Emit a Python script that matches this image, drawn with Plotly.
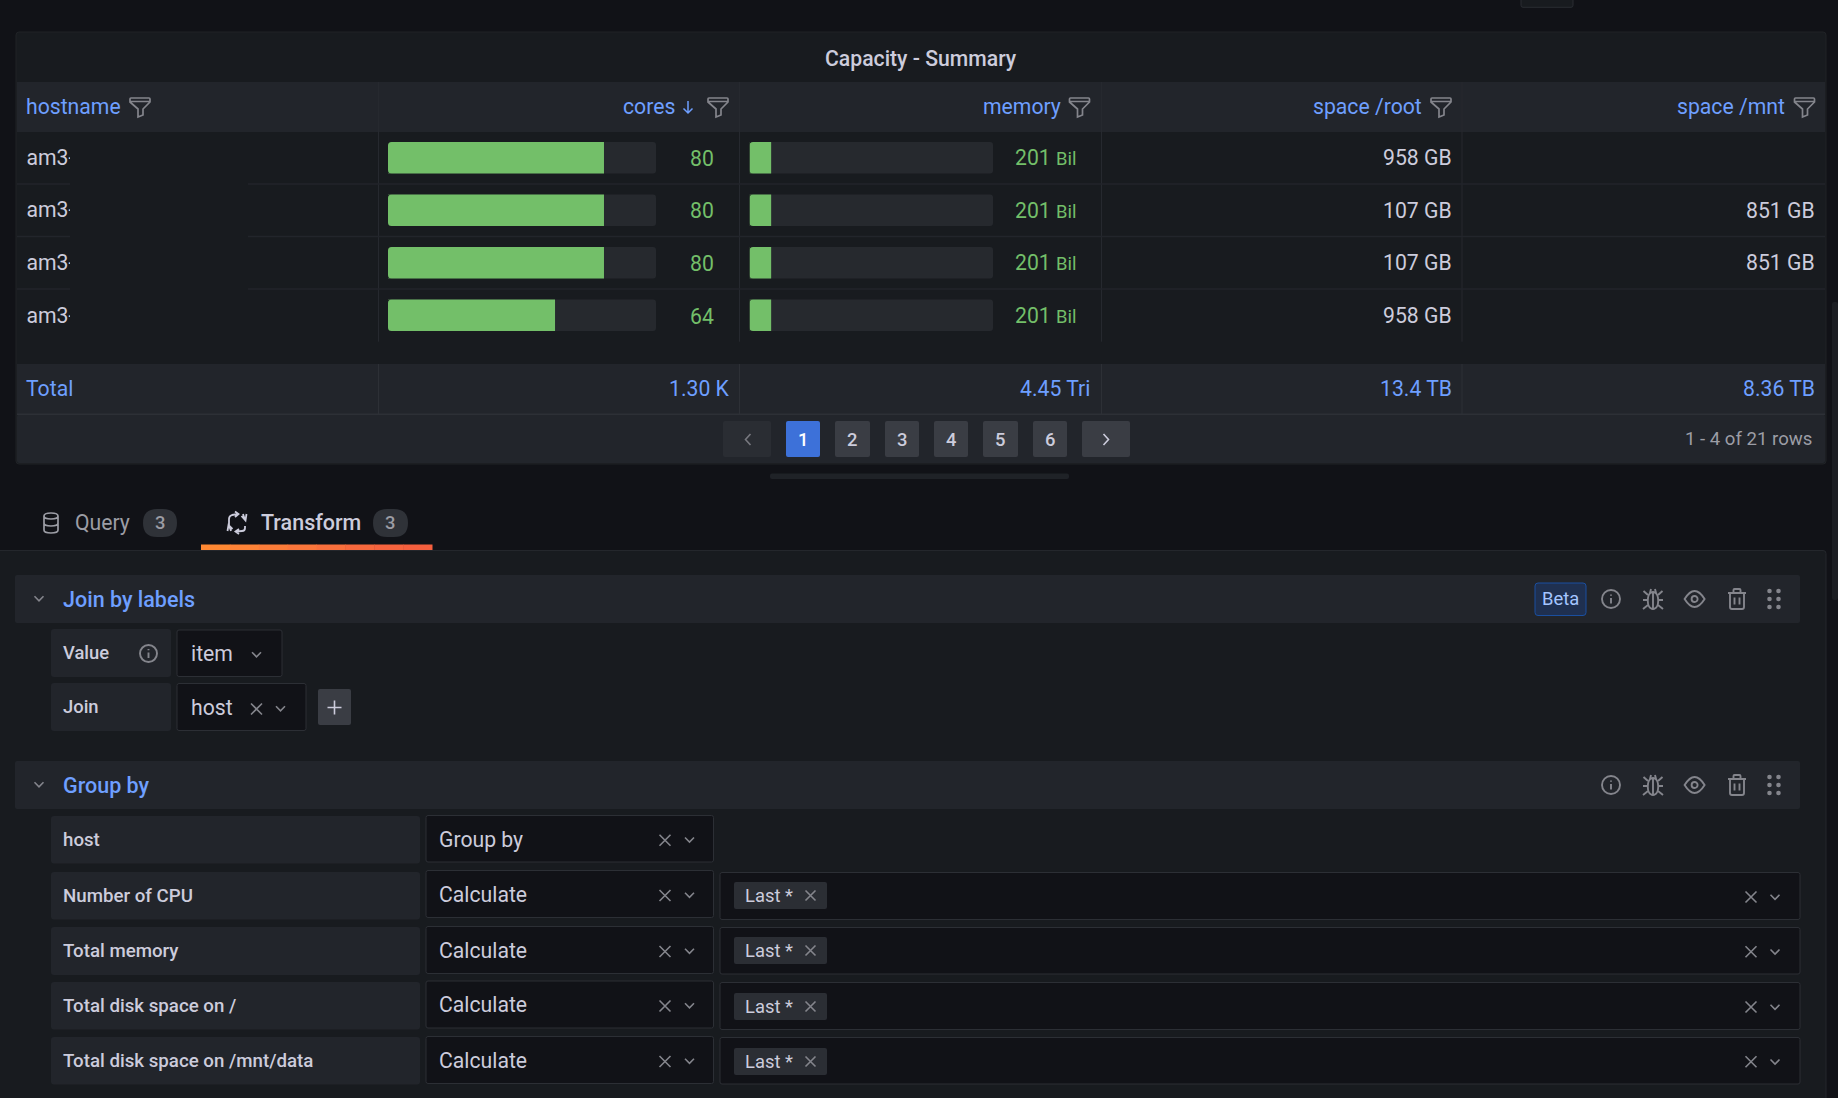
import plotly.graph_objects as go

# ---------- data ----------
hostnames = ["am3-", "am3-", "am3-", "am3-"]
row_index = [1, 2, 3, 4]
cores = [80, 80, 80, 64]
cores_scale = [97, 97, 97, 97]
memory = [201e9, 201e9, 201e9, 201e9]
memory_scale = [2.26e12, 2.26e12, 2.26e12, 2.26e12]
cores_labels = ["80", "80", "80", "64"]
memory_labels = ["201", "201", "201", "201"]
memory_unit = "Bil"
space_root = ["958 GB", "107 GB", "107 GB", "958 GB"]
space_mnt = ["", "851 GB", "851 GB", ""]
totals = ["1.30 K", "4.45 Tri", "13.4 TB", "8.36 TB"]
pages = ["1", "2", "3", "4", "5", "6"]
group_fields = ["host", "Number of CPU", "Total memory", "Total disk space on /", "Total disk space on /mnt/data"]
group_modes = ["Group by", "Calculate", "Calculate", "Calculate", "Calculate"]

# ---------- palette ----------
PAGE = "#111217"; PANEL = "#181b1f"; HEAD = "#22252b"; BORDER = "#2a2d33"
TXT = "#ccccdc"; DIM = "#9c9da5"; BLUE = "#6e9fff"; GREEN = "#73bf69"; ICON = "#84858c"
FONT = "Roboto"
BASE = 21.2; SMALL = 18.4; MEDIUM = 21.5

shapes, annos = [], []

def rect(x0, y0, x1, y1, fill, line=None, r=0, lw=1, layer="below"):
    if r:
        d = (f"M{x0+r},{y0} L{x1-r},{y0} Q{x1},{y0} {x1},{y0+r} L{x1},{y1-r} Q{x1},{y1} {x1-r},{y1} "
             f"L{x0+r},{y1} Q{x0},{y1} {x0},{y1-r} L{x0},{y0+r} Q{x0},{y0} {x0+r},{y0} Z")
        shapes.append(dict(type="path", path=d, xref="x", yref="y", fillcolor=fill, layer=layer,
                           line=dict(color=line or fill, width=lw if line else 0)))
    else:
        shapes.append(dict(type="rect", x0=x0, y0=y0, x1=x1, y1=y1, xref="x", yref="y", fillcolor=fill, layer=layer,
                           line=dict(color=line or fill, width=lw if line else 0)))

def stroke(d, color=ICON, w=1.9, fill="rgba(0,0,0,0)"):
    shapes.append(dict(type="path", path=d, xref="x", yref="y", fillcolor=fill, layer="below",
                       line=dict(color=color, width=w)))

def circle(cx, cy, r, color=ICON, w=1.9, fill="rgba(0,0,0,0)"):
    shapes.append(dict(type="circle", x0=cx-r, y0=cy-r, x1=cx+r, y1=cy+r, xref="x", yref="y",
                       fillcolor=fill, layer="below", line=dict(color=color, width=w)))

def text(x, y, s, anchor="left", size=BASE, color=TXT, weight=400):
    annos.append(dict(x=x, y=y, xref="x", yref="y", text=s, showarrow=False, xanchor=anchor, yanchor="middle",
                      borderpad=0, borderwidth=0, font=dict(family=FONT, size=size, color=color, weight=weight)))

def chevron(cx, cy, s=4.5, color=ICON):
    stroke(f"M{cx-s},{cy-s*0.5} L{cx},{cy+s*0.5} L{cx+s},{cy-s*0.5}", color, 1.6)

def cross(cx, cy, s=5.5, color=ICON):
    stroke(f"M{cx-s},{cy-s} L{cx+s},{cy+s} M{cx+s},{cy-s} L{cx-s},{cy+s}", color, 1.6)

def funnel(x0, y0):
    stroke(f"M{x0+1},{y0} L{x0+19},{y0} Q{x0+20},{y0} {x0+20},{y0+1} L{x0+20},{y0+4} L{x0+13},{y0+11} L{x0+13},{y0+17} "
           f"L{x0+8},{y0+19} L{x0+8},{y0+11} L{x0},{y0+4} L{x0},{y0+1} Q{x0},{y0} {x0+1},{y0} Z "
           f"M{x0},{y0+3.5} L{x0+20},{y0+3.5}", ICON, 1.7)

def info(cx, cy, r=9):
    circle(cx, cy, r)
    stroke(f"M{cx},{cy-1} L{cx},{cy+4.5} M{cx},{cy-4.5} L{cx},{cy-3.2}")

def bug(cx, cy):
    stroke(f"M{cx},{cy-7} C{cx+7},{cy-7} {cx+7},{cy+10} {cx},{cy+10} C{cx-7},{cy+10} {cx-7},{cy-7} {cx},{cy-7} Z "
           f"M{cx},{cy-7} L{cx},{cy+10}")
    for sgn in (-1, 1):
        stroke(f"M{cx+sgn*3},{cy-6} L{cx+sgn*2},{cy-10} M{cx+sgn*5},{cy-4} L{cx+sgn*9.5},{cy-8} "
               f"M{cx+sgn*5},{cy+1} L{cx+sgn*10},{cy+1} M{cx+sgn*5},{cy+6} L{cx+sgn*10},{cy+10}")

def eye(cx, cy):
    stroke(f"M{cx-10},{cy} Q{cx-5},{cy-8} {cx},{cy-8} Q{cx+5},{cy-8} {cx+10},{cy} "
           f"Q{cx+5},{cy+8} {cx},{cy+8} Q{cx-5},{cy+8} {cx-10},{cy} Z")
    circle(cx, cy, 3)

def trash(cx, cy):
    stroke(f"M{cx-9},{cy-6} L{cx+9},{cy-6} M{cx-3.5},{cy-6} L{cx-3.5},{cy-9} Q{cx-3.5},{cy-10} {cx-2.5},{cy-10} "
           f"L{cx+2.5},{cy-10} Q{cx+3.5},{cy-10} {cx+3.5},{cy-9} L{cx+3.5},{cy-6} "
           f"M{cx-7},{cy-6} L{cx-7},{cy+8} Q{cx-7},{cy+10} {cx-5},{cy+10} L{cx+5},{cy+10} Q{cx+7},{cy+10} {cx+7},{cy+8} L{cx+7},{cy-6} "
           f"M{cx-2.5},{cy-1.5} L{cx-2.5},{cy+5.5} M{cx+2.5},{cy-1.5} L{cx+2.5},{cy+5.5}")

def dots(cx, cy):
    for dx in (-4.5, 4.5):
        for dy in (-8, 0, 8):
            circle(cx+dx, cy+dy, 2.3, ICON, 0, ICON)

def header_icons(cy):
    info(1611, cy); bug(1653, cy); eye(1694.6, cy); trash(1737, cy); dots(1774, cy)

# ---------- top button ----------
rect(1521, -6, 1573, 7.3, PANEL, BORDER, 2)

# ---------- table panel ----------
rect(16, 32, 1826, 464, PANEL, "#202226", 3)
text(920.5, 58, "Capacity - Summary", "center", BASE, TXT, 500)
rect(17, 82, 1825, 132, HEAD)
rect(17, 364, 1825, 414, HEAD)
rect(17, 414.5, 1825, 463, HEAD, None, 2)
shapes.append(dict(type="line", x0=17, x1=1825, y0=414.3, y1=414.3, xref="x", yref="y", layer="below",
                   line=dict(color="#2d3036", width=1.5)))
cols = [378.5, 739.5, 1101.5, 1462]
for cx in cols:
    shapes.append(dict(type="line", x0=cx, x1=cx, y0=82, y1=341.7, xref="x", yref="y", layer="below",
                       line=dict(color="#26292f", width=1)))
    shapes.append(dict(type="line", x0=cx, x1=cx, y0=364, y1=414, xref="x", yref="y", layer="below",
                       line=dict(color="#2d3036", width=1)))
for ry in (184, 236.5, 289):
    shapes.append(dict(type="line", x0=17, x1=1825, y0=ry, y1=ry, xref="x", yref="y", layer="below",
                       line=dict(color="#22252b", width=1.5)))

HY = 106.5
text(26.4, HY, "hostname", "left", BASE, BLUE)
funnel(130, 98)
text(675, HY, "cores", "right", BASE, BLUE)
stroke("M688,101 L688,113 M683.5,108.5 L688,113 L692.5,108.5", BLUE, 1.5)
funnel(708, 98)
text(1060.5, HY, "memory", "right", BASE, BLUE)
funnel(1069.5, 98)
text(1422, HY, "space /root", "right", BASE, BLUE)
funnel(1431, 98)
text(1785, HY, "space /mnt", "right", BASE, BLUE)
funnel(1794.5, 98)

row_y = [157.5, 210, 262.5, 315.5]
for i, ry in enumerate(row_y):
    text(714, ry + 0.5, cores_labels[i], "right", BASE, GREEN)
    text(1076.3, ry + 0.3,
         f'{memory_labels[i]} <span style="font-size:18.4px">{memory_unit}</span>', "right", BASE, GREEN)
    text(1452, ry, space_root[i], "right", BASE, TXT)
    if space_mnt[i]:
        text(1815, ry, space_mnt[i], "right", BASE, TXT)

text(26.4, 388.5, "Total", "left", BASE, BLUE)
for xe, t in zip((729.5, 1090, 1452, 1815), totals):
    text(xe, 388.5, t, "right", BASE, BLUE)

# pagination
rect(723, 421, 771, 457, "#2a2d33", None, 2)
stroke("M750.5,434 L745.5,439.5 L750.5,445", "#77787f", 1.6)
page_x = [(786, 820), (835, 870), (885, 919), (934, 968), (983, 1018), (1033, 1067)]
for i, (a, b) in enumerate(page_x):
    rect(a, 421, b, 457, "#3d71d9" if i == 0 else "#3a3d44", None, 2)
    text((a+b)/2 - 0.3, 439, pages[i], "center", SMALL, "#ffffff" if i == 0 else TXT, 500)
rect(1082, 421, 1130, 457, "#3a3d44", None, 2)
stroke("M1103.5,434 L1108.5,439.5 L1103.5,445", TXT, 1.6)
text(1812, 439, "1 - 4 of 21 rows", "right", 18.6, DIM)

# splitter and scrollbar
rect(770, 473.5, 1069, 479, "#1f2227", None, 2)
rect(1832, 302, 1838, 600, "#1c1e23", None, 2)

# ---------- tabs ----------
stroke("M44,516 Q44,513 51,513 Q58,513 58,516 L58,530 Q58,533 51,533 Q44,533 44,530 Z "
       "M44,516 Q44,519 51,519 Q58,519 58,516 M44,523 Q44,526 51,526 Q58,526 58,523",
       DIM, 1.7)
text(75, 522, "Query", "left", BASE, DIM)
rect(143, 509, 177, 537, "#2f3238", None, 14)
text(159.5, 522, "3", "center", SMALL, DIM, 500)
stroke("M229,526 L229,519 Q229,516 232,515 L238,514 M235,511.5 L238.5,514 L235,517 "
       "M243,514 L245,520 M241.5,516 L245.5,520.5 L246.5,514 "
       "M245,526 L245,528 Q245,531 242,531 L236,531.5 M239,534 L235.5,531.5 L239,529 "
       "M231,531 L229,525.5 M232.5,529 L228.5,525 L227.5,531", TXT, 1.8)
text(261, 522, "Transform", "left", MEDIUM, TXT, 500)
rect(373, 509, 408, 537, "#2f3238", None, 14)
text(390, 522, "3", "center", SMALL, DIM, 500)

# transform panel
rect(-5, 550.5, 1826, 1110, PANEL, "#24272c", 3)
# gradient underline of the active tab
grad = ["#ff8833", "#fe8337", "#fc7c39", "#fb763b", "#f96f3c", "#f7683d", "#f6633e", "#f55f3e"]
seg = (432 - 201) / len(grad)
for i, c in enumerate(grad):
    rect(201 + i*seg, 544.5, 201 + (i+1)*seg + 0.5, 550, c)

# Join by labels
rect(15, 575, 1800, 623, HEAD, None, 2)
chevron(39, 598.5)
text(63, 599, "Join by labels", "left", MEDIUM, BLUE, 500)
rect(1535, 583, 1586, 615.5, "#1f3050", "#1a4fa0", 3)
text(1560.5, 598.5, "Beta", "center", SMALL, "#a4c5ff", 400)
header_icons(599)

rect(51, 629, 171, 677, HEAD, None, 3)
text(63, 652.5, "Value", "left", SMALL, TXT, 500)
info(148.5, 653.5, 8.5)
rect(177, 630, 282, 676.5, PAGE, "#2c2f35", 2)
text(191, 653, "item", "left", BASE, TXT)
chevron(256.5, 654.5)

rect(51, 683, 171, 731, HEAD, None, 3)
text(63, 706, "Join", "left", SMALL, TXT, 500)
rect(177, 683.5, 306, 730.5, PAGE, "#2c2f35", 2)
text(191, 707, "host", "left", BASE, TXT)
cross(256.5, 709)
chevron(280.5, 708.5)
rect(318, 689, 351, 725, "#3a3d44", None, 2)
stroke("M327.5,707.5 L341.5,707.5 M334.5,700.5 L334.5,714.5", TXT, 1.6)

# Group by
rect(15, 761, 1800, 809, HEAD, None, 2)
chevron(39, 784.5)
text(63, 785, "Group by", "left", MEDIUM, BLUE, 500)
header_icons(785)

label_y = [(816, 863.5), (872, 919.5), (927, 974), (982, 1029.5), (1037, 1084.5)]
select_y = [(815.5, 862), (870.5, 917.5), (926.5, 973.5), (981, 1028), (1036.5, 1083.5)]
multi_y = [None, (872.5, 919.5), (927.5, 974), (982.5, 1029.5), (1037.5, 1084)]
pill_y = [None, (882, 909), (937, 964), (993, 1020), (1048, 1075)]

for i, field in enumerate(group_fields):
    a, b = label_y[i]
    rect(51, a, 420, b + (1 if i == 2 else 0), HEAD, None, 3)
    text(63, (a+b)/2, field, "left", SMALL + 0.3, TXT, 500)
    a, b = select_y[i]
    rect(426, a, 713.5, b, PAGE, "#2c2f35", 2)
    text(439, (a+b)/2 + 0.4, group_modes[i], "left", BASE, TXT)
    cross(665, (a+b)/2 + 1.5)
    chevron(689.5, (a+b)/2 + 1)
    if multi_y[i]:
        a, b = multi_y[i]
        rect(720, a, 1800, b, PAGE, "#2c2f35", 2)
        cross(1751, (a+b)/2 + 1)
        chevron(1775, (a+b)/2 + 1)
        a, b = pill_y[i]
        rect(734, a, 827, b, "#2b2e34", None, 2)
        text(745, (a+b)/2, "Last *", "left", SMALL, TXT)
        cross(810.5, (a+b)/2, 5)

# cover that hides the redacted part of the hostnames
rect(70, 134, 248, 341, PANEL, None, 0, layer="above")

# rounded left ends of the gauges
bar_w = 0.6
half = bar_w * 52.5 / 2
for gx in (388, 749.5):
    for i in range(4):
        cy = 131.5 + 52.5 * (i + 0.5)
        r = 3.5
        for yy, sgn in ((cy - half, 1), (cy + half, -1)):
            shapes.append(dict(type="path", xref="x", yref="y", layer="above", fillcolor=PANEL,
                               line=dict(color=PANEL, width=0),
                               path=f"M{gx},{yy} L{gx+r},{yy} Q{gx},{yy} {gx},{yy+sgn*r} Z"))

# ---------- figure ----------
fig = go.Figure()
fig.add_trace(go.Scatter(x=[26.4]*4, y=[v + 1.8 for v in row_y], mode="text", text=hostnames, textposition="middle right",
                         textfont=dict(family=FONT, size=BASE, color=TXT), hoverinfo="skip", showlegend=False,
                         xaxis="x", yaxis="y"))
fig.add_trace(go.Bar(y=row_index, x=cores_scale, orientation="h", width=bar_w, marker=dict(color="#26292e", line_width=0),
                     xaxis="x2", yaxis="y2", showlegend=False, hoverinfo="skip"))
fig.add_trace(go.Bar(y=row_index, x=cores, orientation="h", width=bar_w, marker=dict(color=GREEN, line_width=0),
                     xaxis="x2", yaxis="y2", showlegend=False, hoverinfo="skip"))
fig.add_trace(go.Bar(y=row_index, x=memory_scale, orientation="h", width=bar_w, marker=dict(color="#26292e", line_width=0),
                     xaxis="x3", yaxis="y2", showlegend=False, hoverinfo="skip"))
fig.add_trace(go.Bar(y=row_index, x=memory, orientation="h", width=bar_w, marker=dict(color=GREEN, line_width=0),
                     xaxis="x3", yaxis="y2", showlegend=False, hoverinfo="skip"))

W, H = 1838, 1098
hidden = dict(visible=False, showgrid=False, zeroline=False, fixedrange=True)
fig.update_layout(
    width=W, height=H, margin=dict(l=0, r=0, t=0, b=0, pad=0),
    paper_bgcolor=PAGE, plot_bgcolor="rgba(0,0,0,0)",
    barmode="overlay", barcornerradius=3, showlegend=False,
    font=dict(family=FONT, color=TXT),
    xaxis=dict(range=[0, W], domain=[0, 1], **hidden),
    yaxis=dict(range=[H, 0], domain=[0, 1], **hidden),
    xaxis2=dict(range=[9.4, 97], domain=[388/W, 656/W], anchor="y2", **hidden),
    xaxis3=dict(range=[0, 2.26e12], domain=[749.5/W, 993/W], anchor="y2", **hidden),
    yaxis2=dict(range=[4.5, 0.5], domain=[1-341.5/H, 1-131.5/H], anchor="x2", **hidden),
    shapes=shapes, annotations=annos,
)
fig.write_html("out.html", config=dict(displayModeBar=False, staticPlot=True),
               post_script="document.body.style.margin='0';document.body.style.overflow='hidden';document.body.style.background='#111217';")
